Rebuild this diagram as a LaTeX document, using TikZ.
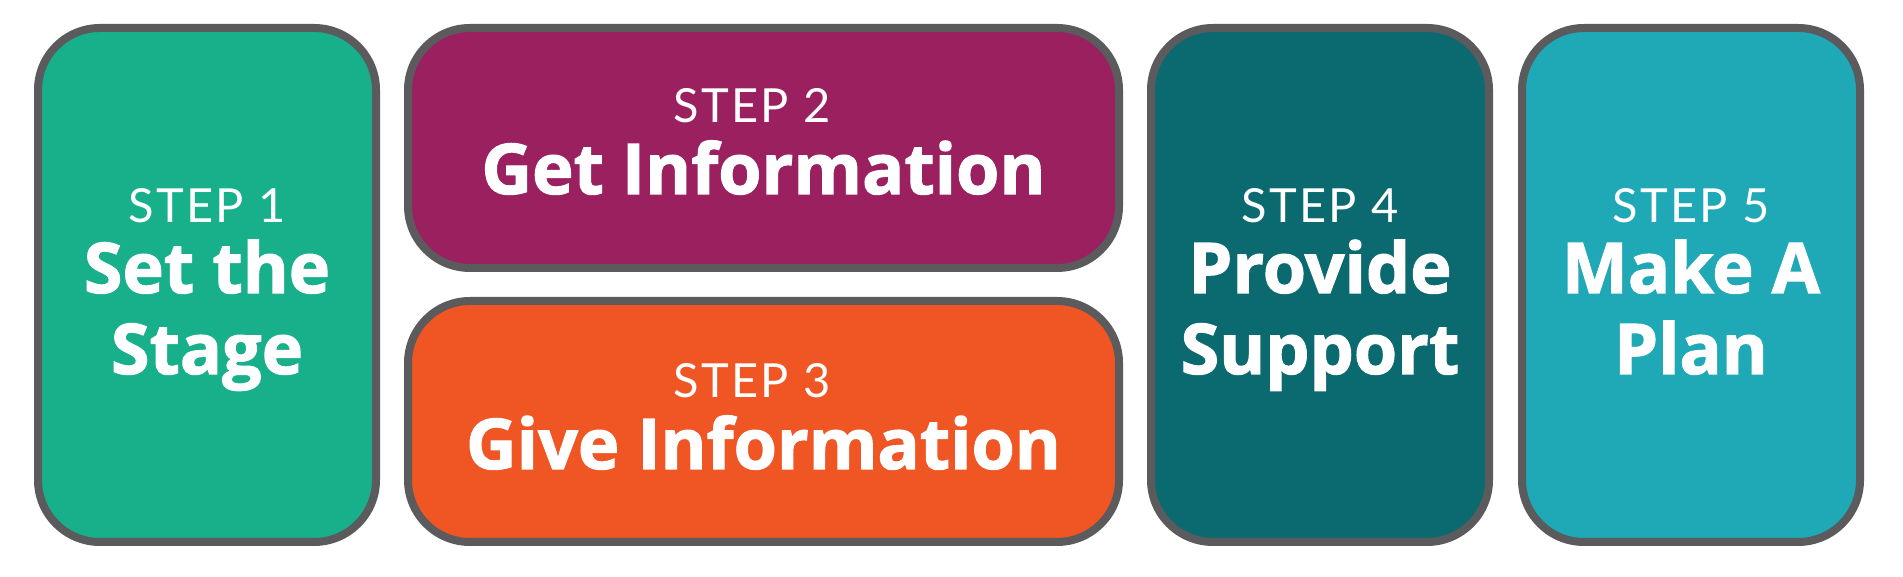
\documentclass[tikz,border=0pt]{standalone}
\usepackage{fontspec}
\usepackage{xcolor}
\usepackage{tikz}
\usetikzlibrary{positioning}

\newfontfamily\steplabelfont{Lato}[LetterSpace=5]
\newfontfamily\steptitlefont{Open Sans}[UprightFont=* Bold,FakeBold=1.6]

\definecolor{frameGray}{HTML}{5B5B5D}
\definecolor{stageGreen}{HTML}{17B08B}
\definecolor{getPurple}{HTML}{9B2060}
\definecolor{giveOrange}{HTML}{F05624}
\definecolor{supportTeal}{HTML}{0B6970}
\definecolor{planTeal}{HTML}{1FA8B5}

\begin{document}
\begin{tikzpicture}[x=1pt,y=1pt,
  stepbox/.style={draw=frameGray,line width=8pt,rounded corners=62pt,inner sep=0pt},
  steplabel/.style={text=white,anchor=base,inner sep=0pt,font=\steplabelfont\fontsize{47}{47}\selectfont},
  steptitle/.style={text=white,anchor=base,inner sep=0pt,font=\steptitlefont\fontsize{70}{70}\selectfont}]

\useasboundingbox (0,0) rectangle (1903,577);

% --- Tall boxes: steps 1, 4 and 5 ---
\foreach \name/\x/\col/\n/\lineA/\lineB in {stage/207/stageGreen/1/Set the/Stage,
    support/1320/supportTeal/4/Provide/Support,
    plan/1691/planTeal/5/Make A/Plan} {
  \node[stepbox,fill=\col,minimum width=338pt,minimum height=514pt] (\name) at (\x,292) {};
  \node[steplabel] (\name-step) at (\x,354) {STEP \n};
  \node[steptitle] (\name-a) at (\x,284) {\lineA};
  \node[steptitle] (\name-b) at (\x,203) {\lineB};
}

% --- Wide boxes: steps 2 and 3 ---
\node[stepbox,fill=getPurple,minimum width=711pt,minimum height=240pt] (get) at (763.5,429) {};
\node[steplabel] (get-step) at (752,454) {STEP 2};
\node[steptitle] (get-a) at (763.5,383) {Get Information};

\node[stepbox,fill=giveOrange,minimum width=711pt,minimum height=241pt] (give) at (763.5,155.5) {};
\node[steplabel] (give-step) at (752,179) {STEP 3};
\node[steptitle] (give-a) at (763.5,108) {Give Information};

\end{tikzpicture}
\end{document}
